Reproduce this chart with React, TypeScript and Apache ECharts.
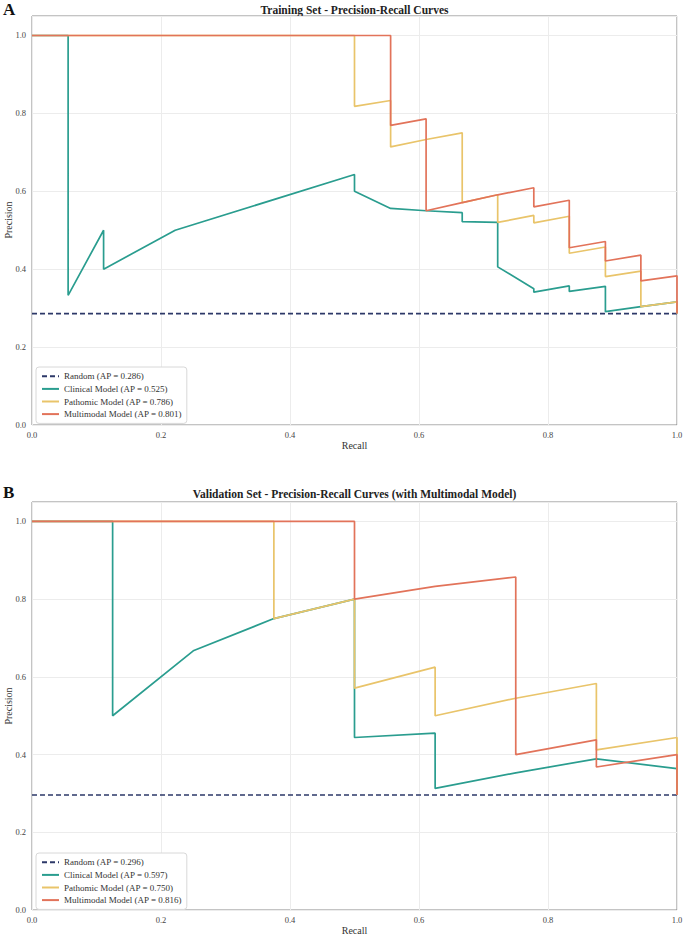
import React, { useEffect, useRef } from "react";
import * as echarts from "echarts";

const xTicks = [0, 0.2, 0.4, 0.6, 0.8, 1.0];

// Panel A (training)
const trainRandomAP = 0.286;
const trainClinical: [number, number][] = [
  [0, 1], [0.056, 1], [0.056, 0.333], [0.111, 0.5], [0.111, 0.4], [0.222, 0.5],
  [0.5, 0.643], [0.5, 0.6], [0.556, 0.556], [0.611, 0.55], [0.667, 0.545], [0.667, 0.522],
  [0.722, 0.52], [0.722, 0.406], [0.778, 0.35], [0.778, 0.341], [0.833, 0.357], [0.833, 0.343],
  [0.889, 0.356], [0.889, 0.291], [0.944, 0.304], [1.0, 0.316], [1.0, 0.286],
];
const trainPathomic: [number, number][] = [
  [0, 1], [0.5, 1], [0.5, 0.818], [0.556, 0.833], [0.556, 0.714], [0.611, 0.733], [0.667, 0.75],
  [0.667, 0.571], [0.722, 0.591], [0.722, 0.52], [0.778, 0.538], [0.778, 0.519], [0.833, 0.536],
  [0.833, 0.441], [0.889, 0.457], [0.889, 0.381], [0.944, 0.395], [0.944, 0.304], [1.0, 0.316],
  [1.0, 0.286],
];
const trainMultimodal: [number, number][] = [
  [0, 1], [0.556, 1], [0.556, 0.769], [0.611, 0.786], [0.611, 0.55], [0.667, 0.571],
  [0.722, 0.591], [0.778, 0.609], [0.778, 0.56], [0.833, 0.577], [0.833, 0.455], [0.889, 0.471],
  [0.889, 0.421], [0.944, 0.436], [0.944, 0.37], [1.0, 0.383], [1.0, 0.286],
];
const trainAP = { clinical: "0.525", pathomic: "0.786", multimodal: "0.801" };

// Panel B (validation)
const valRandomAP = 0.296;
const valClinical: [number, number][] = [
  [0, 1], [0.125, 1], [0.125, 0.5], [0.25, 0.667], [0.375, 0.75], [0.5, 0.8], [0.5, 0.444],
  [0.625, 0.455], [0.625, 0.313], [0.75, 0.353], [0.875, 0.389], [1.0, 0.364], [1.0, 0.296],
];
const valPathomic: [number, number][] = [
  [0, 1], [0.375, 1], [0.375, 0.75], [0.5, 0.8], [0.5, 0.571], [0.625, 0.625], [0.625, 0.5],
  [0.75, 0.545], [0.875, 0.583], [0.875, 0.412], [1.0, 0.444], [1.0, 0.296],
];
const valMultimodal: [number, number][] = [
  [0, 1], [0.5, 1], [0.5, 0.8], [0.625, 0.833], [0.75, 0.857], [0.75, 0.4], [0.875, 0.438],
  [0.875, 0.368], [1.0, 0.4], [1.0, 0.296],
];
const valAP = { clinical: "0.597", pathomic: "0.750", multimodal: "0.816" };

const FONT = "'Liberation Serif', 'Times New Roman', serif";
const C_RANDOM = "#2d3868";
const C_CLIN = "#2a9d8f";
const C_PATH = "#e9c46a";
const C_MULTI = "#e2735a";

export default function App() {
  const ref = useRef<HTMLDivElement>(null);
  useEffect(() => {
    document.body.style.margin = "0";
    const chart = echarts.init(ref.current!, null, { renderer: "svg" });

    const grids = [
      { left: 32, right: 8, top: 16, height: 409 },
      { left: 32, right: 8, top: 502, height: 408 },
    ];

    const mkX = (gi: number) => ({
      type: "value", gridIndex: gi, min: 0, max: 1, interval: 0.2,
      name: "Recall", nameLocation: "middle", nameGap: 15,
      nameTextStyle: { fontFamily: FONT, fontSize: 10, color: "#333" },
      axisLine: { show: false }, axisTick: { show: false },
      axisLabel: { fontFamily: FONT, fontSize: 8.5, color: "#444", margin: 5,
        formatter: (v: number) => v.toFixed(1) },
      splitLine: { show: true, lineStyle: { color: "#ececec", width: 1 } },
    });
    const mkY = (gi: number) => ({
      type: "value", gridIndex: gi, min: 0, max: 1.05, interval: 0.2,
      axisLine: { show: false }, axisTick: { show: false },
      axisLabel: { fontFamily: FONT, fontSize: 8.5, color: "#444", margin: 6,
        showMaxLabel: false,
        formatter: (v: number) => (Math.abs(v * 5 - Math.round(v * 5)) < 1e-6 ? v.toFixed(1) : "") },
      splitLine: { show: true, lineStyle: { color: "#ececec", width: 1 } },
    });

    const mkSeries = (gi: number, name: string, data: [number, number][], color: string, dashed = false) => ({
      type: "line", name, xAxisIndex: gi, yAxisIndex: gi, data,
      symbol: "none", showSymbol: false,
      lineStyle: { color, width: 1.7, type: dashed ? [5, 3] : "solid" },
      itemStyle: { color },
      z: 3,
    });

    const namesA = [
      `Random (AP = ${trainRandomAP.toFixed(3)})`,
      `Clinical Model (AP = ${trainAP.clinical})`,
      `Pathomic Model (AP = ${trainAP.pathomic})`,
      `Multimodal Model (AP = ${trainAP.multimodal})`,
    ];
    const namesB = [
      `Random (AP = ${valRandomAP.toFixed(3)})`,
      `Clinical Model (AP = ${valAP.clinical})`,
      `Pathomic Model (AP = ${valAP.pathomic})`,
      `Multimodal Model (AP = ${valAP.multimodal})`,
    ];

    const legendBase = {
      orient: "vertical", itemGap: 0, itemWidth: 17, itemHeight: 10,
      padding: [3, 5, 3, 5],
      borderColor: "#d8d8d8", borderWidth: 1, borderRadius: 3, backgroundColor: "#fff",
      itemStyle: { opacity: 0 },
      textStyle: { fontFamily: FONT, fontSize: 9, color: "#333", lineHeight: 12.6 },
    };

    const yName = (y: number) => ({
      type: "text", x: 8, y, rotation: Math.PI / 2,
      style: { text: "Precision", font: `10px ${FONT}`, fill: "#333", align: "center", verticalAlign: "middle" },
    });

    chart.setOption({
      animation: false,
      backgroundColor: "#fff",
      grid: grids.map((g) => ({ ...g, show: true, borderColor: "#888", borderWidth: 1,
        backgroundColor: "transparent", containLabel: false, outerBoundsMode: "none" })),
      xAxis: [mkX(0), mkX(1)],
      yAxis: [mkY(0), mkY(1)],
      legend: [
        { ...legendBase, left: 36, top: 367, data: namesA },
        { ...legendBase, left: 36, top: 853, data: namesB },
      ],
      graphic: [
        { type: "text", left: 3, top: 1, style: { text: "A", font: `bold 17px ${FONT}`, fill: "#111" } },
        { type: "text", left: 3, top: 484, style: { text: "B", font: `bold 17px ${FONT}`, fill: "#111" } },
        { type: "text", x: 354.5, y: 10, style: { text: "Training Set - Precision-Recall Curves",
          font: `bold 11.5px ${FONT}`, fill: "#222", align: "center", verticalAlign: "middle" } },
        { type: "text", x: 354.5, y: 494, style: { text: "Validation Set - Precision-Recall Curves (with Multimodal Model)",
          font: `bold 11.5px ${FONT}`, fill: "#222", align: "center", verticalAlign: "middle" } },
        yName(220),
        yName(706),
      ],
      series: [
        mkSeries(0, namesA[0], [[0, trainRandomAP], [1, trainRandomAP]], C_RANDOM, true),
        mkSeries(0, namesA[1], trainClinical, C_CLIN),
        mkSeries(0, namesA[2], trainPathomic, C_PATH),
        mkSeries(0, namesA[3], trainMultimodal, C_MULTI),
        mkSeries(1, namesB[0], [[0, valRandomAP], [1, valRandomAP]], C_RANDOM, true),
        mkSeries(1, namesB[1], valClinical, C_CLIN),
        mkSeries(1, namesB[2], valPathomic, C_PATH),
        mkSeries(1, namesB[3], valMultimodal, C_MULTI),
      ],
    });
    return () => chart.dispose();
  }, []);
  return <div ref={ref} style={{ width: 685, height: 936 }} />;
}
